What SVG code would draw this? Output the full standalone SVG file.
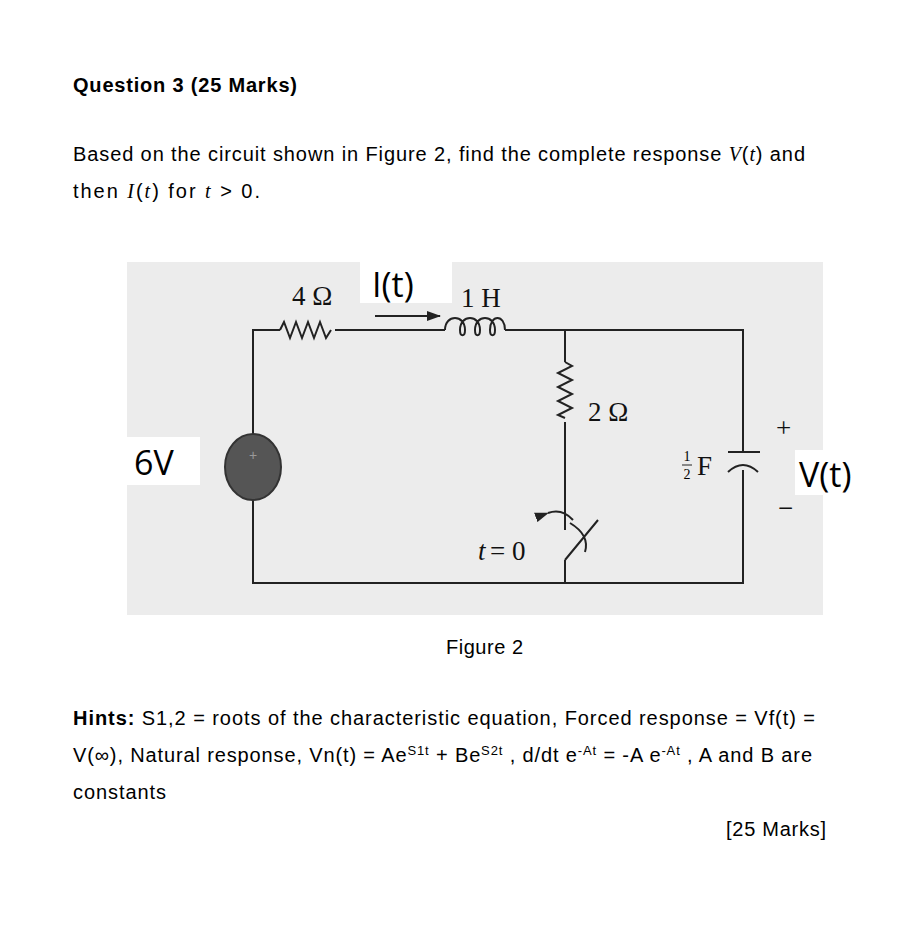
<svg xmlns="http://www.w3.org/2000/svg" width="914" height="944" viewBox="0 0 914 944">
<style>
.t{font-family:"Liberation Sans",Arial,sans-serif;font-size:20px;fill:#000}
.m{font-family:"Liberation Serif",serif;font-style:italic}
.c{font-family:"Liberation Serif",serif;font-size:27px;fill:#111}
.o{font-family:"Open Sans",sans-serif;font-size:34px;fill:#000}
.w{fill:none;stroke:#222;stroke-width:2}
</style>
<defs><marker id="ah" markerWidth="14" markerHeight="10" refX="13" refY="5" orient="auto" markerUnits="userSpaceOnUse"><path d="M0,0L14,5L0,10z" fill="#222"/></marker></defs>
<rect width="914" height="944" fill="#fff"/>
<text class="t" x="73" y="92" font-weight="bold" textLength="224">Question 3 (25 Marks)</text>
<text class="t" x="73" y="161" textLength="732">Based on the circuit shown in Figure 2, find the complete response <tspan class="m">V</tspan>(<tspan class="m">t</tspan>) and</text>
<text class="t" x="73" y="198" textLength="187">then <tspan class="m">I</tspan>(<tspan class="m">t</tspan>) for <tspan class="m">t</tspan> &gt; 0.</text>
<rect x="127" y="262" width="696" height="353" fill="#ececec"/>
<g id="wires" class="w">
<path d="M253,434V330H280M335,330H445M505,330H743V452M743,470V583H253V500"/>
<path d="M565,330V362M565,422V530M565,560V583"/>
<path d="M280,330l4,-8l6,16l6,-16l6,16l6,-16l6,16l6,-16l6,16l5,-8"/>
<path d="M445,330c0,-16 20,-16 20,0c0,7 -5,7 -5,0c0,-16 20,-16 20,0c0,7 -5,7 -5,0c0,-16 20,-16 20,0c0,7 -5,7 -5,0c0,-16 15,-16 15,0"/>
<path d="M565,362l7,4l-14,7l14,7l-14,7l14,7l-14,7l14,7l-14,7l7,3"/>
<path d="M728,452H760M728,472Q743,458 758,472"/>
<path d="M565,560L598,520M570,523Q590,535 585,552" />
<path d="M548,513Q562,508 573,520" marker-start="url(#ah)"/>
<path d="M375,316H440" marker-end="url(#ah)"/>
</g>
<g id="source"><ellipse cx="253" cy="467" rx="28" ry="33" fill="#555" stroke="#333" stroke-width="2"/><text x="253" y="460" text-anchor="middle" fill="#999" font-size="14" font-family="Liberation Sans,sans-serif">+</text></g>
<rect x="127" y="437" width="73" height="48" fill="#fff"/><text class="o" x="134" y="475">6V</text>
<rect x="360" y="262" width="92" height="41" fill="#fff"/><text class="o" x="372" y="297">I(t)</text>
<rect x="795" y="450" width="75" height="45" fill="#fff"/><text class="o" x="799" y="487">V(t)</text>
<text class="c" x="292" y="305">4 Ω</text>
<text class="c" x="461" y="307">1 H</text>
<text class="c" x="588" y="421">2 Ω</text>
<text class="c" x="697" y="475">F</text>
<text x="687" y="461" font-family="Liberation Serif,serif" font-size="14" text-anchor="middle">1</text>
<path d="M682,465H692" stroke="#222"/>
<text x="687" y="479" font-family="Liberation Serif,serif" font-size="14" text-anchor="middle">2</text>
<text class="c" x="776" y="437">+</text>
<text class="c" x="778" y="517">−</text>
<text class="c" x="478" y="560" font-style="italic">t</text><text class="c" x="490" y="560">= 0</text>
<text class="t" x="446" y="654" textLength="77">Figure 2</text>
<text class="t" x="73" y="725" textLength="742"><tspan font-weight="bold">Hints:</tspan> S1,2 = roots of the characteristic equation, Forced response = Vf(t) =</text>
<text class="t" x="73" y="762" textLength="739">V(∞), Natural response, Vn(t) = Ae<tspan font-size="13" dy="-7">S1t</tspan><tspan dy="7"> + Be</tspan><tspan font-size="13" dy="-7">S2t</tspan><tspan dy="7">  , d/dt e</tspan><tspan font-size="13" dy="-7">-At</tspan><tspan dy="7"> = -A e</tspan><tspan font-size="13" dy="-7">-At</tspan><tspan dy="7"> , A and B are</tspan></text>
<text class="t" x="73" y="799" textLength="93">constants</text>
<text class="t" x="726" y="836" textLength="100">[25 Marks]</text>
</svg>
